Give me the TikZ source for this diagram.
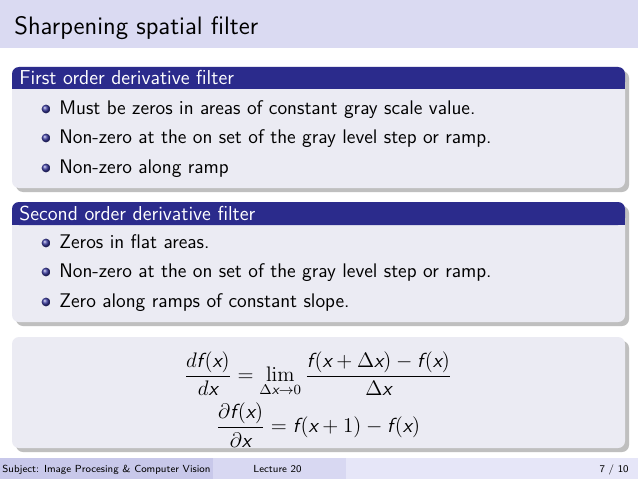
\documentclass[tikz,border=0pt]{standalone}
\usepackage{amsmath}
\usetikzlibrary{shadows}
\definecolor{hdr}{HTML}{2B2B8C}
\definecolor{bodyc}{HTML}{EBEBF3}
\definecolor{titlec}{HTML}{DADAF2}
\definecolor{fa}{HTML}{C8C8EA}
\definecolor{fb}{HTML}{D8D8F2}
\definecolor{fc}{HTML}{E6E6F8}
\definecolor{ball}{HTML}{3A3AA0}
\tikzset{
 txt/.style={anchor=base west,inner sep=0pt,font=\sffamily\fontsize{11.25}{13}\selectfont},
 htxt/.style={anchor=base west,inner sep=0pt,text=white,font=\sffamily\fontsize{11.5}{13}\selectfont},
 bul/.style={circle,inner sep=0pt,minimum size=5pt,shading=ball,ball color=ball},
 eqn/.style={inner sep=0pt,font=\sffamily\fontsize{11.6}{13}\selectfont},
 foot/.style={anchor=base west,inner sep=0pt,font=\sffamily\fontsize{5.85}{7}\selectfont}
}
\newcommand\fx[1]{\text{\sffamily\slshape #1}}
\newcommand\ff{\fx{f}\mkern1.5mu}
\begin{document}
\begin{tikzpicture}[x=0.5707pt,y=-0.5707pt]
\useasboundingbox (0,0) rectangle (638,479);
\fill[white] (0,0) rectangle (638,479);
% title
\fill[titlec] (0,0) rectangle (638,48);
\node[anchor=base west,inner sep=0pt,font=\sffamily\fontsize{14.4}{16}\selectfont] (title) at (14,35) {Sharpening spatial filter};
% block 1
\fill[black!25,rounded corners=4pt] (16,71) rectangle (629,192);
\fill[bodyc,rounded corners=4pt] (12,67) rectangle (625,188);
\fill[hdr,rounded corners=4pt] (12,67) rectangle (625,89);
\fill[hdr] (12,80) rectangle (625,89);
\node[htxt] (h1) at (19,85) {First order derivative filter};
\node[bul] (b11) at (46,109) {}; \node[txt] (t11) at (59,114) {Must be zeros in areas of constant gray scale value.};
\node[bul] (b12) at (46,138) {}; \node[txt] (t12) at (59,143) {Non-zero at the on set of the gray level step or ramp.};
\node[bul] (b13) at (46,168) {}; \node[txt] (t13) at (59,173) {Non-zero along ramp};
% block 2
\fill[black!25,rounded corners=4pt] (16,206) rectangle (629,326);
\fill[bodyc,rounded corners=4pt] (12,202) rectangle (625,322);
\fill[hdr,rounded corners=4pt] (12,202) rectangle (625,225);
\fill[hdr] (12,215) rectangle (625,225);
\node[htxt] (h2) at (19,220) {Second order derivative filter};
\node[bul] (b21) at (46,243) {}; \node[txt] (t21) at (59,248) {Zeros in flat areas.};
\node[bul] (b22) at (46,272) {}; \node[txt] (t22) at (59,277) {Non-zero at the on set of the gray level step or ramp.};
\node[bul] (b23) at (46,302) {}; \node[txt] (t23) at (59,307) {Zero along ramps of constant slope.};
% block 3
\fill[black!25,rounded corners=4pt] (16,341) rectangle (629,452);
\fill[bodyc,rounded corners=4pt] (12,337) rectangle (625,448);
\node[eqn] (eq1) at (318,374)
 {$\dfrac{d\ff(\fx{x})}{d\fx{x}}=\lim\limits_{\Delta \fx{x}\to 0}\dfrac{\ff(\fx{x}+\Delta \fx{x})-\ff(\fx{x})}{\Delta \fx{x}}$};
\node[eqn] (eq2) at (318,425)
 {$\dfrac{\partial \ff(\fx{x})}{\partial \fx{x}}=\ff(\fx{x}+1)-\ff(\fx{x})$};
% footer
\fill[fa] (0,458) rectangle (213,479);
\fill[fb] (213,458) rectangle (346,479);
\fill[fc] (346,458) rectangle (638,479);
\node[foot] (f1) at (2,472) {Subject: Image Procesing \& Computer Vision};
\node[foot] (f2) at (253,472) {Lecture 20};
\node[foot,anchor=base east] (f3) at (629,472) {7 / 10};
\end{tikzpicture}
\end{document}
